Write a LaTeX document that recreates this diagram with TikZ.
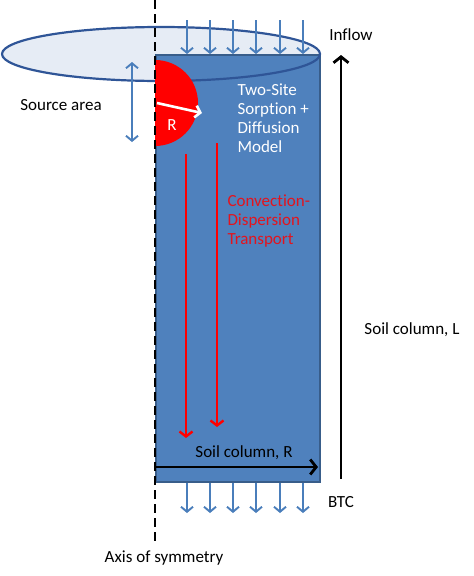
\documentclass[tikz,border=0pt]{standalone}
\usepackage{fontspec}
\setmainfont[Ligatures={NoCommon, NoContextual}]{Carlito}
\usetikzlibrary{positioning, shapes.geometric, arrows.meta}
\tikzset{
    Flow/.style = {
        line width=1.9pt, color=flowBlue,
        -{Straight Barb[length=5pt, width=12pt]}
    },
    FlowBoth/.style = {
        line width=1.9pt, color=flowBlue,
        {Straight Barb[length=5pt, width=12pt]}-{Straight Barb[length=5pt, width=12pt]}
    },
    Dim/.style = {
        line width=2.8pt, black,
        -{Straight Barb[length=6pt, width=15pt]}
    },
    Transport/.style = {
        line width=2.4pt, red,
        -{Straight Barb[length=5pt, width=13pt]}
    }
}
\tikzset{
Column/.style={
  rectangle, inner sep=0pt,
  minimum width=164pt, minimum height=427pt,
  fill=colFill, draw=colLine, line width=1.6pt
  },
Source/.style={
  ellipse, inner sep=0pt,
  minimum width=318pt, minimum height=54pt
  }
}
\definecolor{colFill}{HTML}{4F81BD}
\definecolor{colLine}{HTML}{385D8A}
\definecolor{srcFill}{HTML}{E6ECF5}
\definecolor{srcLine}{HTML}{2F5597}
\definecolor{flowBlue}{HTML}{4A7EBB}
\definecolor{cdRed}{HTML}{E3141E}

\begin{document}
\begin{tikzpicture}[x=1pt, y=1pt, font=\fontsize{17}{19}\selectfont]
    \useasboundingbox (0,0) rectangle (474,-576);

    % source area and soil column
    \node[Source, fill=srcFill] (src) at (161,-54) {};
    \node[Column, anchor=north west] (col) at (155,-54) {};
    \node[Source, draw=srcLine, line width=2.2pt] (srcRim) at (src) {};

    % sorption sphere
    \coordinate (sph) at (155,-103);
    \fill[red] (sph) ++(0,43) arc (90:-90:43) -- cycle;
    \coordinate (rEnd) at (202,-113);
    \draw[line width=2.6pt, white, -{Straight Barb[length=5pt, width=12pt]}] ([xshift=2pt]sph) -- (rEnd);
    \node[text=white] (rLabel) at (172,-125) {R};

    % inflow and outflow
    \foreach \i/\x in {1/187, 2/210, 3/233, 4/256, 5/280, 6/303} {
        \coordinate (in\i) at (\x,-20);
        \coordinate (out\i) at (\x,-513);
        \draw[Flow] (in\i) -- (in\i |- col.north);
        \draw[Flow] (out\i |- col.south) -- (out\i);
    }

    % source area depth
    \coordinate (srcTop) at (132,-62);
    \coordinate (srcBot) at (132,-142);
    \draw[FlowBoth] (srcTop) -- (srcBot);
    \node (srcLabel) at (61,-105) {Source area};

    % convection-dispersion
    \coordinate (cd1a) at (186,-154);
    \coordinate (cd1b) at (186,-438);
    \coordinate (cd2a) at (217,-143);
    \coordinate (cd2b) at (217,-427);
    \draw[Transport] (cd1a) -- (cd1b);
    \draw[Transport] (cd2a) -- (cd2b);

    % column length
    \coordinate (Ltop) at (341,-55);
    \coordinate (Lbot) at (341,-479);
    \draw[Dim, {Straight Barb[length=6pt, width=15pt]}-] (Ltop) -- (Lbot);
    \node (inflow) at (351,-35) {Inflow};
    \node[below=14pt of Lbot] (btc) {BTC};
    \node (lLabel) at (412,-330) {Soil column, L};

    % column radius
    \coordinate (Rstart) at (155,-467);
    \coordinate (Rend) at (318,-467);
    \draw[Dim] (Rstart) -- (Rend);
    \node (rColLabel) at (244,-453) {Soil column, R};

    % model texts
    \node[align=left, anchor=west, text=white] (sorption) at (234,-118.5)
        {Two-Site\\Sorption +\\Diffusion\\Model};
    \node[align=left, anchor=west, text=cdRed] (cdLabel) at (224,-221)
        {Convection-\\Dispersion\\Transport};

    % axis of symmetry
    \coordinate (axTop) at (155,0);
    \coordinate (axBot) at (155,-542);
    \draw[line width=2.6pt, dash pattern=on 9pt off 5pt] (axTop) -- (axBot);
    \node (axLabel) at (164,-558) {Axis of symmetry};
\end{tikzpicture}
\end{document}
